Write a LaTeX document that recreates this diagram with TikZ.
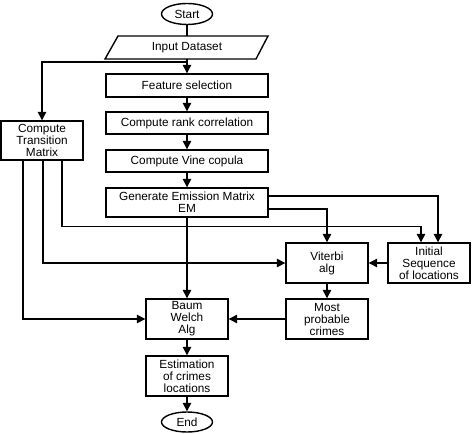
\documentclass[tikz,border=0pt]{standalone}
\usepackage{fontspec}
\setmainfont{Liberation Sans}
\usetikzlibrary{shapes.geometric,arrows.meta}
\begin{document}
\begin{tikzpicture}[x=1bp,y=-1bp,
  every node/.style={font=\fontsize{11.8bp}{12bp}\selectfont, align=center, inner sep=0pt},
  box/.style={draw, line width=1.4bp, rectangle, minimum width=82bp, minimum height=40bp},
  wide/.style={draw, line width=1.4bp, rectangle, minimum width=162bp, minimum height=22bp},
  term/.style={draw, line width=1.4bp, ellipse, minimum width=51bp, minimum height=21bp},
  arr/.style={line width=1.4bp, -{Triangle[length=8.5bp,width=8.5bp]}},
  ln/.style={line width=1.4bp}]
\useasboundingbox (0,0) rectangle (474,434);
% nodes
\node[term] (start) at (187,14) {Start};
\draw[line width=1.4bp] (105,59) -- (118,36) -- (268,36) -- (256,59) -- cycle;
\node[minimum height=23bp, minimum width=150bp] (input) at (187,47.5) {Input Dataset};
\node[wide, minimum height=23bp] (feat) at (187,85.5) {Feature selection};
\node[wide] (rank) at (187,123) {Compute rank correlation};
\node[wide] (vine) at (187,161) {Compute Vine copula};
\node[wide, minimum height=29bp] (gem) at (187,202.5) {Generate Emission Matrix\\EM};
\node[box, minimum height=39bp] (ctm) at (42,140.5) {Compute\\Transition\\Matrix};
\node[box] (vit) at (327,263) {Viterbi\\alg};
\node[box] (init) at (429,263) {Initial\\Sequence\\of locations};
\node[box] (mpc) at (327,319) {Most\\probable\\crimes};
\node[box] (baum) at (187,319) {Baum\\Welch\\Alg};
\node[box] (est) at (187,376) {Estimation\\of crimes\\locations};
\node[term, minimum height=20bp] (end) at (187,422) {End};
% connectors
\draw[ln] (start) -- (input.north);
\draw[arr] (input.south) -- (feat.north);
\draw[arr] ([yshift=-3bp]input.south) -| (ctm.north);
\draw[arr] (feat) -- (rank);
\draw[arr] (rank) -- (vine);
\draw[arr] (vine) -- (gem);
\draw[arr] ([yshift=6.5bp]gem.east) -| ([xshift=9bp]init.north);
\draw[arr] ([yshift=-6.5bp]gem.east) -| (vit.north);
\draw[arr] (gem.south) -- (baum.north);
\draw[arr] ([xshift=20bp]ctm.south) |- ([xshift=-8bp,yshift=16bp]init.north) -- ([xshift=-8bp]init.north);
\draw[arr] ([xshift=1bp]ctm.south) |- (vit.west);
\draw[arr] ([xshift=-19bp]ctm.south) |- (baum.west);
\draw[arr] (init.west) -- (vit.east);
\draw[arr] (vit.south) -- (mpc.north);
\draw[arr] (mpc.west) -- (baum.east);
\draw[arr] (baum) -- (est);
\draw[arr] (est) -- (end);
\end{tikzpicture}
\end{document}
